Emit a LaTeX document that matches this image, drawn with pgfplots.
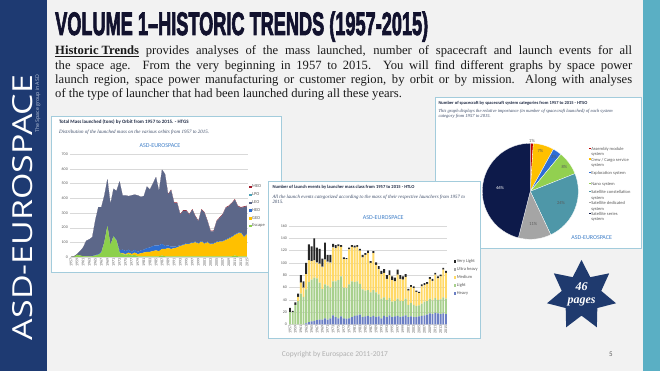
\documentclass[border=0pt]{standalone}
\usepackage{fontspec}
\usepackage{pgfplots}
\pgfplotsset{compat=1.18}
\usepackage{pgfplotstable}
\usetikzlibrary{shapes.geometric}
\usepackage{graphicx}
\setmainfont{Carlito}
\newfontfamily\serif{Liberation Serif}
\newfontfamily\titlefont[BoldFeatures={FakeBold=3}]{Liberation Sans}
\newfontfamily\opensans{Open Sans}

\definecolor{slidebg}{HTML}{F2F2F2}
\definecolor{sidebar}{HTML}{1E3A72}
\definecolor{stripe}{HTML}{5AAFC4}
\definecolor{cardborder}{HTML}{A3CCDC}
\definecolor{navytitle}{HTML}{12122E}
\definecolor{bodytext}{HTML}{1A1A1A}
\definecolor{ttl}{HTML}{1F2A44}
\definecolor{subt}{HTML}{3B4A66}
\definecolor{logoblue}{HTML}{3F7FC8}
\definecolor{ticktext}{HTML}{595959}
\definecolor{gridgray}{HTML}{D9D9D9}
\definecolor{sidetext}{HTML}{B8C4DA}
\definecolor{footgray}{HTML}{B0B0B0}
\definecolor{starnavy}{HTML}{1F3A6E}
% chart 1
\definecolor{escc}{HTML}{8CD04B}
\definecolor{geoc}{HTML}{FFC000}
\definecolor{heoc}{HTML}{2F6FD1}
\definecolor{leoc}{HTML}{5C6789}
\definecolor{lpoc}{HTML}{4AA0B5}
\definecolor{meoc}{HTML}{A01C2C}
% chart 2
\definecolor{heavyc}{HTML}{6B7FC4}
\definecolor{lightc}{HTML}{A8D08D}
\definecolor{mediumc}{HTML}{FFD966}
\definecolor{ultrac}{HTML}{A5A5A5}
\definecolor{vlightc}{HTML}{262626}
% pie
\definecolor{p1}{HTML}{C00000}
\definecolor{p2}{HTML}{FFC000}
\definecolor{p3}{HTML}{2E6ED6}
\definecolor{p4}{HTML}{92D050}
\definecolor{p5}{HTML}{4E97A8}
\definecolor{p6}{HTML}{A5A5A5}
\definecolor{p7}{HTML}{0D1A4A}

\pgfplotstableread{
year esc geo heo leo lpo meo
1957 0 0 0 2 0 0
1958 0 0 0 5 0 0
1959 15 0 0 5 0 0
1960 10 0 0 30 0 0
1961 5 0 0 60 0 0
1962 5 0 0 105 0 0
1963 5 0 0 115 0 0
1964 5 0 2 128 0 0
1965 10 0 3 237 0 0
1966 15 0 5 320 0 0
1967 30 0 5 305 0 0
1968 100 0 5 315 0 0
1969 210 0 5 315 0 0
1970 80 0 5 275 0 0
1971 140 0 5 320 0 0
1972 110 0 5 335 0 0
1973 30 0 15 470 0 0
1974 20 5 25 370 0 0
1975 15 5 20 380 0 0
1976 20 10 20 365 0 0
1977 10 10 15 385 0 0
1978 15 15 20 375 0 0
1979 5 15 15 385 0 0
1980 5 20 20 365 0 0
1981 5 25 20 365 0 0
1982 5 30 25 420 0 0
1983 5 30 30 395 0 0
1984 5 35 35 425 0 0
1985 5 40 35 465 0 0
1986 5 35 40 370 0 0
1987 10 45 35 505 0 0
1988 5 50 20 490 0 0
1989 5 55 20 345 0 5
1990 5 50 15 385 0 5
1991 5 55 10 297 0 5
1992 5 60 10 292 0 5
1993 5 70 5 208 0 5
1994 5 75 5 230 0 5
1995 5 85 5 220 0 5
1996 5 85 5 193 0 5
1997 5 90 5 222 0 5
1998 5 95 5 170 0 5
1999 5 85 5 148 0 5
2000 5 100 5 212 0 5
2001 5 85 5 205 0 5
2002 5 95 5 138 0 5
2003 5 80 5 85 0 5
2004 5 85 5 80 0 5
2005 5 95 5 138 0 5
2006 5 100 5 156 0 5
2007 5 100 5 178 0 5
2008 5 110 5 214 0 5
2009 5 120 5 215 0 5
2010 5 130 5 225 0 5
2011 10 140 5 235 0 5
2012 5 155 5 180 0 5
2013 5 160 5 165 0 5
2014 5 130 5 200 0 5
2015 5 150 5 185 0 5
}\mass

\pgfplotstableread{
year heavy light medium ultra vlight
1957 0 20 0 0 7
1958 0 20 0 0 2
1959 0 32 0 0 4
1960 0 38 7 0 5
1961 0 50 18 0 12
1962 0 45 15 0 10
1963 2 55 25 0 18
1964 4 65 35 0 26
1965 5 68 30 0 24
1966 6 70 28 0 36
1967 7 68 25 1 24
1968 8 60 30 1 24
1969 8 50 35 1 13
1970 10 55 40 1 27
1971 8 55 38 1 11
1972 10 50 40 1 12
1973 15 55 55 1 5
1974 12 58 54 0 5
1975 10 62 55 0 3
1976 13 65 48 0 3
1977 10 50 46 0 3
1978 9 50 47 0 2
1979 10 55 57 0 3
1980 12 58 56 0 3
1981 14 55 56 0 3
1982 15 55 56 0 3
1983 16 50 54 0 3
1984 12 45 52 0 4
1985 13 42 58 0 3
1986 14 42 60 0 4
1987 12 40 48 0 3
1988 14 42 60 0 3
1989 12 40 45 0 4
1990 13 36 41 0 5
1991 10 32 40 0 5
1992 14 30 40 0 6
1993 12 28 34 0 6
1994 15 28 37 0 8
1995 12 25 35 0 6
1996 13 25 32 0 6
1997 14 28 39 0 8
1998 12 26 36 0 6
1999 13 25 35 0 5
2000 15 27 35 0 5
2001 12 20 23 0 3
2002 13 22 26 0 3
2003 12 20 27 0 3
2004 12 18 23 0 2
2005 13 18 20 0 2
2006 14 20 28 0 3
2007 15 22 27 0 3
2008 16 22 28 0 3
2009 18 24 32 0 3
2010 17 22 32 0 3
2011 19 24 38 0 3
2012 18 22 35 0 3
2013 17 24 37 0 3
2014 18 26 45 0 3
2015 17 25 42 0 3
}\launch

\pgfplotsset{
  sqlegend/.style={legend image code/.code={\fill[##1] (0pt,-1.2pt) rectangle (2.4pt,1.2pt);}},
  excel/.style={
    scale only axis,
    axis line style={draw=none},
    tick style={draw=none},
    major tick length=0pt,
    ymajorgrids,
    grid style={line width=0.3pt, draw=gridgray},
    tick label style={font=\fontsize{4}{4.5}\selectfont, text=ticktext},
    /pgf/number format/assume math mode=true,
    /pgf/number format/1000 sep={},
    xticklabel style={rotate=90, anchor=east, inner sep=1pt},
    yticklabel style={anchor=east, inner sep=1.5pt},
    xtick={1957,1959,...,2015},
    xmin=1956.5, xmax=2015.5,
    legend cell align=left,
    reverse legend,
    legend style={draw=none, fill=none, inner sep=0pt, row sep=2.2pt,
      font=\fontsize{4.5}{5}\selectfont, text=ticktext, nodes={inner sep=0.6pt}},
  }
}

\begin{document}
\begin{tikzpicture}[x=1pt,y=1pt]
% slide background
\fill[slidebg] (0,0) rectangle (660,371);
\fill[sidebar] (0,0) rectangle (47,371);
\fill[stripe] (643,0) rectangle (660,371);
\node[rotate=90, inner sep=0, text=white] at (23,163.5) {\resizebox{265pt}{20pt}{\opensans ASD-EUROSPACE}};
\node[rotate=90, inner sep=0, anchor=east, text=sidetext, font=\opensans\fontsize{5.2}{6}\selectfont] at (37.8,296) {The Space group in ASD};

% title
\node[anchor=base west, inner sep=0, text=navytitle] at (55,336) {\resizebox{373pt}{23.5pt}{\titlefont\bfseries VOLUME 1–HISTORIC TRENDS (1957-2015)}};

% body text
\begin{scope}[every node/.style={anchor=base west, inner sep=0, text=bodytext, font=\serif\fontsize{12.6}{14}\selectfont}]
\node at (55,316) {\makebox[577pt][s]{\textbf{\underline{Historic Trends}} provides analyses of the mass launched, number of spacecraft and launch events for all}};
\node at (55,301.9) {\makebox[577pt][s]{the space age. From the very beginning in 1957 to 2015. You will find different graphs by space power}};
\node at (55,287.8) {\makebox[577pt][s]{launch region, space power manufacturing or customer region, by orbit or by mission. Along with analyses}};
\node at (55,273.7) {of the type of launcher that had been launched during all these years.};
\end{scope}

% ---------- card 1 ----------
\filldraw[fill=white, draw=cardborder, line width=0.8pt] (51.7,255) rectangle (281,98.3);
\node[anchor=base west, inner sep=0, text=ttl, font=\bfseries\fontsize{5}{6}\selectfont] at (59,247) {Total Mass launched (tons) by Orbit from 1957 to 2015. - HTGS};
\node[anchor=base west, inner sep=0, text=subt, font=\serif\itshape\fontsize{5}{6}\selectfont] at (59,237.7) {Distribution of the launched mass on the various orbits from 1957 to 2015.};
\node[inner sep=0, text=logoblue, font=\fontsize{6}{7}\selectfont] at (160,225) {ASD-EUROSPACE};

\begin{axis}[excel, sqlegend, at={(69.5pt,114pt)}, anchor=south west, width=179pt, height=102.7pt,
  ymin=0, ymax=700, ytick={0,100,...,700}, stack plots=y,
  legend style={at={(1.003,0.71)}, anchor=north west}]
\addplot[fill=escc, draw=none] table[x=year,y=esc]{\mass} \closedcycle;
\addlegendentry{Escape}
\addplot[fill=geoc, draw=none] table[x=year,y=geo]{\mass} \closedcycle;
\addlegendentry{GEO}
\addplot[fill=heoc, draw=none] table[x=year,y=heo]{\mass} \closedcycle;
\addlegendentry{HEO}
\addplot[fill=leoc, draw=none] table[x=year,y=leo]{\mass} \closedcycle;
\addlegendentry{LEO}
\addplot[fill=lpoc, draw=none] table[x=year,y=lpo]{\mass} \closedcycle;
\addlegendentry{LPO}
\addplot[fill=meoc, draw=none] table[x=year,y=meo]{\mass} \closedcycle;
\addlegendentry{MEO}
\end{axis}

% ---------- pie card ----------
\filldraw[fill=white, draw=cardborder, line width=0.8pt] (435,274) rectangle (641,123);
\node[anchor=base west, inner sep=0, text=ttl, font=\bfseries\fontsize{4.5}{5.5}\selectfont] at (438.3,266.2) {Number of spacecraft by spacecraft system categories from 1957 to 2015 - HTSO};
\node[anchor=north west, inner sep=0, text=subt, align=left, font=\serif\itshape\fontsize{4.6}{5.1}\selectfont] at (438.3,262.2) {This graph displays the relative importance (in number of spacecraft launched) of each system\\category from 1957 to 2015.};
\node[inner sep=0, text=logoblue, font=\fontsize{6}{7}\selectfont] at (591.7,133.3) {ASD-EUROSPACE};

\begin{axis}[scale only axis, at={(482.3pt,131.7pt)}, anchor=south west, width=96pt, height=96pt,
  xmin=-1, xmax=1, ymin=-1, ymax=1, hide axis, clip=false,
  legend cell align=left,
  legend style={at={(1.1,0.975)}, anchor=north west, draw=none, fill=none, inner sep=0pt, row sep=1.5pt,
     font=\fontsize{4.5}{5.2}\selectfont, text=ticktext, nodes={inner sep=0.5pt}},
  one/.style={legend image code/.code={\fill[##1] (0pt,-1.2pt) rectangle (2.4pt,1.2pt);}},
  two/.style={legend image code/.code={\fill[##1] (0pt,1.4pt) rectangle (2.4pt,3.8pt);}},
  ]
% shares (%): 1, 7, 3, 8, 24, 11, 46 -> slices clockwise from 12 o'clock
\addplot[fill=p1, draw=white, line width=0.3pt, two, domain=86.4:90, samples=4] ({cos(x)},{sin(x)}) -- (axis cs:0,0) -- cycle;
\addlegendentry{\parbox[c][11.2pt][c]{48pt}{Assembly module\\system}}
\addplot[fill=p2, draw=white, line width=0.3pt, two, domain=61.2:86.4, samples=12] ({cos(x)},{sin(x)}) -- (axis cs:0,0) -- cycle;
\addlegendentry{\parbox[c][11.2pt][c]{48pt}{Crew / Cargo service\\system}}
\addplot[fill=p3, draw=white, line width=0.3pt, one, domain=50.4:61.2, samples=6] ({cos(x)},{sin(x)}) -- (axis cs:0,0) -- cycle;
\addlegendentry{\parbox[c][11.2pt][c]{48pt}{Exploration system}}
\addplot[fill=p4, draw=white, line width=0.3pt, one, domain=21.6:50.4, samples=12] ({cos(x)},{sin(x)}) -- (axis cs:0,0) -- cycle;
\addlegendentry{\parbox[c][11.2pt][c]{48pt}{Nano system}}
\addplot[fill=p5, draw=white, line width=0.3pt, two, domain=-64.8:21.6, samples=30] ({cos(x)},{sin(x)}) -- (axis cs:0,0) -- cycle;
\addlegendentry{\parbox[c][11.2pt][c]{48pt}{Satellite constellation\\system}}
\addplot[fill=p6, draw=white, line width=0.3pt, two, domain=-104.4:-64.8, samples=15] ({cos(x)},{sin(x)}) -- (axis cs:0,0) -- cycle;
\addlegendentry{\parbox[c][11.2pt][c]{48pt}{Satellite dedicated\\system}}
\addplot[fill=p7, draw=white, line width=0.3pt, two, domain=-270:-104.4, samples=50] ({cos(x)},{sin(x)}) -- (axis cs:0,0) -- cycle;
\addlegendentry{\parbox[c][11.2pt][c]{48pt}{Satellite series\\system}}
\begin{scope}[every node/.style={font=\fontsize{4.5}{5}\selectfont, text=ticktext, inner sep=0}]
\node at (axis cs:0.035,1.05) {1\%};
\node at (axis cs:0.21,0.84) {7\%};
\node at (axis cs:0.49,0.72) {3\%};
\node at (axis cs:0.71,0.50) {8\%};
\node at (axis cs:0.64,-0.25) {24\%};
\node at (axis cs:0.06,-0.69) {11\%};
\node[text=white] at (axis cs:-0.63,0.07) {46\%};
\end{scope}
\end{axis}

% ---------- card 2 ----------
\filldraw[fill=white, draw=cardborder, line width=0.8pt] (268.3,190) rectangle (480,33);
\node[anchor=base west, inner sep=0, text=ttl, font=\bfseries\fontsize{4.6}{5.5}\selectfont] at (272.3,182.2) {Number of launch events by launcher mass class from 1957 to 2015 - HTLO};
\node[anchor=north west, inner sep=0, text=subt, align=left, font=\serif\itshape\fontsize{4.9}{5.2}\selectfont] at (272.3,176.5) {All the launch events categorized according to the mass of their respective launchers from 1957 to\\2015.};
\node[inner sep=0, text=logoblue, font=\fontsize{6}{7}\selectfont] at (383.3,153.7) {ASD-EUROSPACE};

\begin{axis}[excel, at={(288.7pt,46.5pt)}, anchor=south west, width=158.6pt, height=98.5pt,
  ymin=0, ymax=160, ytick={0,20,...,160}, ybar stacked, bar width=1.9pt, sqlegend,
  legend style={at={(1.04,0.67)}, anchor=north west}]
\addplot[fill=heavyc, draw=none] table[x=year,y=heavy]{\launch};
\addlegendentry{Heavy}
\addplot[fill=lightc, draw=none] table[x=year,y=light]{\launch};
\addlegendentry{Light}
\addplot[fill=mediumc, draw=none] table[x=year,y=medium]{\launch};
\addlegendentry{Medium}
\addplot[fill=ultrac, draw=none] table[x=year,y=ultra]{\launch};
\addlegendentry{Ultra heavy}
\addplot[fill=vlightc, draw=none] table[x=year,y=vlight]{\launch};
\addlegendentry{Very Light}
\end{axis}

% ---------- star ----------
\node[star, star points=7, star point ratio=1.75, minimum size=70.8pt, inner sep=0, fill=starnavy] at (581.5,75.6) {};
\node[inner sep=0, text=white, align=center, font=\serif\bfseries\itshape\fontsize{12}{13.4}\selectfont] at (581.5,76.5) {46\\pages};

% ---------- footer ----------
\node[inner sep=0, text=footgray, font=\fontsize{7.5}{8}\selectfont] at (335,16) {Copyright by Eurospace 2011-2017};
\node[inner sep=0, text=ticktext, font=\fontsize{7}{8}\selectfont] at (611,17) {5};
\end{tikzpicture}
\end{document}
